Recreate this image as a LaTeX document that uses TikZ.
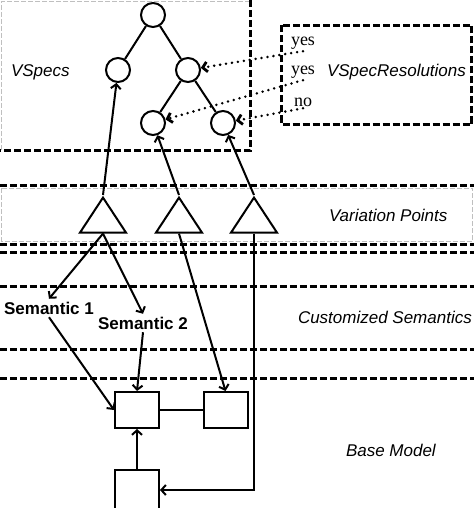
\documentclass[tikz,border=0pt]{standalone}
\usepackage{fontspec}
\setmainfont{Liberation Serif}
\setsansfont{Liberation Sans}
\usetikzlibrary{arrows.meta,shapes.geometric}

\begin{document}
\begin{tikzpicture}[x=1pt,y=-1pt,>={Straight Barb[length=4.5pt,width=10pt]},line width=2pt,
  spec/.style={circle,draw,minimum size=24pt,inner sep=0pt},
  vp/.style={isosceles triangle,isosceles triangle stretches,shape border rotate=90,draw,
    minimum width=46pt,minimum height=35pt,inner sep=0pt,anchor=apex},
  elem/.style={rectangle,draw,minimum width=44pt,minimum height=36pt,inner sep=0pt},
  lbl/.style={font=\sffamily\itshape\fontsize{17}{20}\selectfont,inner sep=0pt,anchor=west},
  sem/.style={font=\sffamily\bfseries\fontsize{17}{20}\selectfont,inner sep=2pt},
  res/.style={font=\rmfamily\fontsize{18}{20}\selectfont,inner sep=1pt,anchor=west},
  layer/.style={dash pattern=on 7pt off 3pt,line width=2.4pt},
  frame/.style={gray!50,dash pattern=on 5pt off 2pt,line width=1pt},
  dots/.style={dash pattern=on 0pt off 6pt,line cap=round,line width=2.8pt}]
\useasboundingbox (0,0) rectangle (474,508);

% layers
\draw[frame] (250,1.5) -- (1.5,1.5) -- (1.5,150);
\draw[layer] (250.5,0) -- (250.5,150.5) -- (0,150.5);
\draw[frame] (1.5,188) rectangle (472.5,241);
\foreach \y in {185.5,244.5,252.5,286.5,349.5,378.5}
  \draw[layer] (0,\y) -- (474,\y);
\draw[layer] (281.5,25.5) rectangle (471.5,124.5);

% vspec tree
\node[spec] (root) at (153,15) {};
\node[spec] (l) at (118,70) {};
\node[spec] (r) at (188,70) {};
\node[spec] (rl) at (153,123) {};
\node[spec] (rr) at (223,123) {};

% variation points
\node[vp] (vp1) at (103,195) {};
\node[vp] (vp2) at (179,195) {};
\node[vp] (vp3) at (254,195) {};

% base model
\node[elem] (b1) at (137,410) {};
\node[elem] (b2) at (225.5,410) {};
\node[elem,minimum height=40pt] (b3) at (137,490) {};

% labels
\node[lbl] (vspecs) at (10,72) {VSpecs};
\node[lbl] (vres) at (326,72) {VSpecResolutions};
\node[res] (y1) at (289,43) {yes};
\node[res] (y2) at (289,72) {yes};
\node[res] (n1) at (292,102) {no};
\node[lbl] (vpl) at (328,215) {Variation Points};
\node[sem] (sem1) at (49,308) {Semantic 1};
\node[sem] (sem2) at (143,323) {Semantic 2};
\node[lbl] (csem) at (297,317) {Customized Semantics};
\node[lbl] (bm) at (345,450) {Base Model};

\path	(root)	edge	(l)
		edge	(r)
	(r)	edge	(rl)
		edge	(rr)
	(b1)	edge	(b2);

\path[->]	(vp1.apex)	edge	(l)
	(vp2.apex)	edge	(rl)
	(vp3.apex)	edge	(rr)
	(vp1.south)	edge	(sem1.north)
		edge	(sem2.north)
	(vp2.south)	edge	(b2.north)
	(sem1.south)	edge	(b1.west)
	(sem2.south)	edge	(b1.north)
	(b3)	edge	(b1);
\draw[->] (vp3.south) |- (b3.east);

\path[->,dots]	(y1.south)	edge	(r)
	(y2.south)	edge	(rl)
	(n1.south)	edge	(rr);
\end{tikzpicture}
\end{document}
